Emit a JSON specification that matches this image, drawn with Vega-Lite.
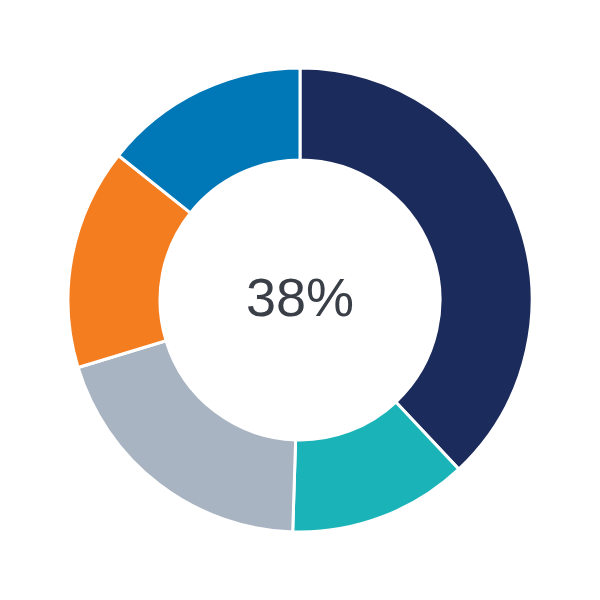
{
  "$schema": "https://vega.github.io/schema/vega-lite/v6.json",
  "autosize": {"type": "fit", "contains": "padding"},
  "width": 600,
  "height": 600,
  "padding": 0,
  "background": "white",
  "view": {"stroke": null},
  "layer": [
    {
      "data": {
        "values": [
          {"segment": "A", "idx": 1, "value": 38},
          {"segment": "B", "idx": 2, "value": 12.5},
          {"segment": "C", "idx": 3, "value": 19.8},
          {"segment": "D", "idx": 4, "value": 15.4},
          {"segment": "E", "idx": 5, "value": 14.3}
        ]
      },
      "mark": {"type": "arc", "outerRadius": 232, "innerRadius": 140, "stroke": "white", "strokeWidth": 3},
      "encoding": {
        "theta": {"field": "value", "type": "quantitative", "stack": true},
        "order": {"field": "idx", "type": "quantitative"},
        "color": {
          "field": "segment",
          "type": "nominal",
          "legend": null,
          "scale": {
            "domain": ["A", "B", "C", "D", "E"],
            "range": ["#1b2b5b", "#1ab4b8", "#a9b4c2", "#f47d20", "#0077b6"]
          }
        }
      }
    },
    {
      "data": {"values": [{"label": "38%"}]},
      "mark": {"type": "text", "font": "Liberation Sans", "fontSize": 54, "color": "#3a3f47", "baseline": "middle", "align": "center"},
      "encoding": {
        "text": {"field": "label", "type": "nominal"}
      }
    }
  ]
}
